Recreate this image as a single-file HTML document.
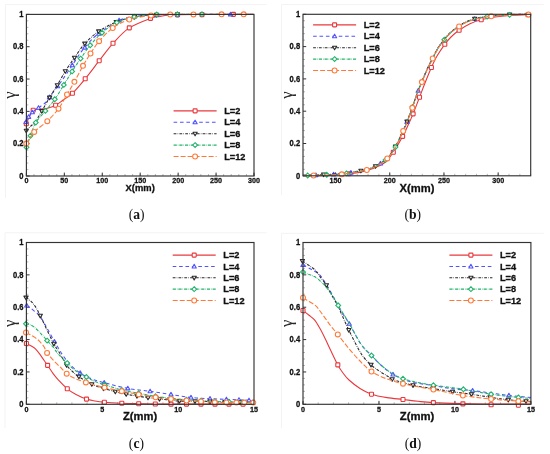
<!DOCTYPE html>
<html><head><meta charset="utf-8"><title>Figure</title>
<style>
html,body{margin:0;padding:0;background:#fff;}
body{width:550px;height:454px;overflow:hidden;}
svg{display:block;}
.t{font-family:'Liberation Sans', Arial, sans-serif;font-weight:bold;font-size:7.2px;fill:#111;stroke:#111;stroke-width:0.26px;}
.ty{font-size:7.6px;}
.ti{font-family:'Liberation Sans', Arial, sans-serif;font-weight:bold;fill:#111;stroke:#111;stroke-width:0.3px;}
.lg{font-family:'Liberation Sans', Arial, sans-serif;font-weight:bold;font-size:9.2px;fill:#111;stroke:#111;stroke-width:0.3px;}
.g{font-family:'Liberation Serif', 'Times New Roman', serif;font-size:16.5px;fill:#2a2a2a;}
.cap{font-family:'Liberation Serif', 'Times New Roman', serif;font-size:13.6px;fill:#111;}
</style></head>
<body>
<svg width="550" height="454" viewBox="0 0 550 454">
<rect width="550" height="454" fill="#fff"/>
<path d="M5.5 198V4.5M5.5 4.5H266.5" fill="none" stroke="#f3f3f3" stroke-width="1"/>
<clipPath id="ca"><rect x="25.9" y="13.6" width="228.6" height="163.2"/></clipPath>
<path d="M26.4 169.54h2M26.4 163.07h2M26.4 156.61h2M26.4 150.14h2M26.4 137.22h2M26.4 130.75h2M26.4 124.29h2M26.4 117.82h2M26.4 104.9h2M26.4 98.43h2M26.4 91.97h2M26.4 85.5h2M26.4 72.58h2M26.4 66.11h2M26.4 59.65h2M26.4 53.18h2M26.4 40.26h2M26.4 33.79h2M26.4 27.33h2M26.4 20.86h2M26.4 176v-2M33.99 176v-2M41.57 176v-2M49.16 176v-2M56.75 176v-2M64.33 176v-2M71.92 176v-2M79.51 176v-2M87.09 176v-2M94.68 176v-2M102.27 176v-2M109.85 176v-2M117.44 176v-2M125.03 176v-2M132.61 176v-2M140.2 176v-2M147.79 176v-2M155.37 176v-2M162.96 176v-2M170.55 176v-2M178.13 176v-2M185.72 176v-2M193.31 176v-2M200.89 176v-2M208.48 176v-2M216.07 176v-2M223.65 176v-2M231.24 176v-2M238.83 176v-2M246.41 176v-2M254 176v-2" stroke="#888" stroke-width="0.6" fill="none"/>
<path d="M26.4 176h3.2M26.4 143.68h3.2M26.4 111.36h3.2M26.4 79.04h3.2M26.4 46.72h3.2M26.4 14.4h3.2M26.4 176v-3.4M64.33 176v-3.4M102.27 176v-3.4M140.2 176v-3.4M178.13 176v-3.4M216.07 176v-3.4M254 176v-3.4" stroke="#333" stroke-width="1" fill="none"/>
<path d="M26.3 123.8 C26.83 122.58 28.35 118.77 29.5 116.5 C30.65 114.23 31.78 111.4 33.2 110.2 C34.62 109 36.37 109.53 38 109.3 C39.63 109.07 41.42 108.98 43 108.8 C44.58 108.62 45.4 108.78 47.5 108.2 C49.6 107.62 52.93 106.7 55.6 105.3 C58.27 103.9 60.7 101.8 63.5 99.8 C66.3 97.8 68.78 96.8 72.4 93.3 C76.02 89.8 80.73 84.23 85.2 78.8 C89.67 73.37 94.57 66.62 99.2 60.7 C103.83 54.78 107.98 48.77 113 43.3 C118.02 37.83 123.05 32.05 129.3 27.9 C135.55 23.75 145.38 20.3 150.5 18.4 C155.62 16.5 157.2 17.05 160 16.5 C162.8 15.95 164.38 15.42 167.3 15.1 C170.22 14.78 171.38 14.72 177.5 14.6 C183.62 14.48 194.68 14.45 204 14.4 C213.32 14.35 225.07 14.32 233.4 14.3 C241.73 14.28 250.57 14.3 254 14.3" fill="none" stroke="#e8383c" stroke-width="1.1" stroke-linejoin="round" clip-path="url(#ca)"/>
<rect x="24.3" y="121.8" width="4" height="4" rx="0.6" fill="#fff" stroke="#e8383c" stroke-width="1.1"/>
<rect x="31.2" y="108.2" width="4" height="4" rx="0.6" fill="#fff" stroke="#e8383c" stroke-width="1.1"/>
<rect x="53.6" y="103.3" width="4" height="4" rx="0.6" fill="#fff" stroke="#e8383c" stroke-width="1.1"/>
<rect x="70.4" y="91.3" width="4" height="4" rx="0.6" fill="#fff" stroke="#e8383c" stroke-width="1.1"/>
<rect x="83.2" y="76.8" width="4" height="4" rx="0.6" fill="#fff" stroke="#e8383c" stroke-width="1.1"/>
<rect x="97.2" y="58.7" width="4" height="4" rx="0.6" fill="#fff" stroke="#e8383c" stroke-width="1.1"/>
<rect x="111" y="41.3" width="4" height="4" rx="0.6" fill="#fff" stroke="#e8383c" stroke-width="1.1"/>
<rect x="127.3" y="25.9" width="4" height="4" rx="0.6" fill="#fff" stroke="#e8383c" stroke-width="1.1"/>
<rect x="148.5" y="16.4" width="4" height="4" rx="0.6" fill="#fff" stroke="#e8383c" stroke-width="1.1"/>
<rect x="175.5" y="12.9" width="4" height="4" rx="0.6" fill="#fff" stroke="#e8383c" stroke-width="1.1"/>
<rect x="200" y="12.6" width="4" height="4" rx="0.6" fill="#fff" stroke="#e8383c" stroke-width="1.1"/>
<rect x="231.4" y="12.4" width="4" height="4" rx="0.6" fill="#fff" stroke="#e8383c" stroke-width="1.1"/>
<path d="M26 122 C26.43 121.15 27.55 118.52 28.6 116.9 C29.65 115.28 30.65 113.82 32.3 112.3 C33.95 110.78 36.22 109.48 38.5 107.8 C40.78 106.12 44.17 103.97 46 102.2 C47.83 100.43 47.57 99.85 49.5 97.2 C51.43 94.55 55.42 89.23 57.6 86.3 C59.78 83.37 60.15 83.12 62.6 79.6 C65.05 76.08 69.07 70 72.3 65.2 C75.53 60.4 78.43 55.4 82 50.8 C85.57 46.2 90.2 41 93.7 37.6 C97.2 34.2 100.53 32.17 103 30.4 C105.47 28.63 105.82 28.67 108.5 27 C111.18 25.33 114.68 22.17 119.1 20.4 C123.52 18.63 128.18 17.33 135 16.4 C141.82 15.47 149.17 15.13 160 14.8 C170.83 14.47 188.25 14.48 200 14.4 C211.75 14.32 221.5 14.32 230.5 14.3 C239.5 14.28 250.08 14.3 254 14.3" fill="none" stroke="#5252ff" stroke-width="1.1" stroke-dasharray="3.6 2.8" stroke-linejoin="round" clip-path="url(#ca)"/>
<path d="M26 119.9L28.1 123.5L23.9 123.5Z" fill="#fff" stroke="#5252ff" stroke-width="1.1" stroke-linejoin="round"/>
<path d="M28.6 114.8L30.7 118.4L26.5 118.4Z" fill="#fff" stroke="#5252ff" stroke-width="1.1" stroke-linejoin="round"/>
<path d="M32.3 110.2L34.4 113.8L30.2 113.8Z" fill="#fff" stroke="#5252ff" stroke-width="1.1" stroke-linejoin="round"/>
<path d="M38.5 105.7L40.6 109.3L36.4 109.3Z" fill="#fff" stroke="#5252ff" stroke-width="1.1" stroke-linejoin="round"/>
<path d="M49.5 95.1L51.6 98.7L47.4 98.7Z" fill="#fff" stroke="#5252ff" stroke-width="1.1" stroke-linejoin="round"/>
<path d="M57.6 84.2L59.7 87.8L55.5 87.8Z" fill="#fff" stroke="#5252ff" stroke-width="1.1" stroke-linejoin="round"/>
<path d="M72.3 63.1L74.4 66.7L70.2 66.7Z" fill="#fff" stroke="#5252ff" stroke-width="1.1" stroke-linejoin="round"/>
<path d="M84.8 45.54L86.9 49.14L82.7 49.14Z" fill="#fff" stroke="#5252ff" stroke-width="1.1" stroke-linejoin="round"/>
<path d="M98.7 31.63L100.8 35.23L96.6 35.23Z" fill="#fff" stroke="#5252ff" stroke-width="1.1" stroke-linejoin="round"/>
<path d="M119.1 18.3L121.2 21.9L117 21.9Z" fill="#fff" stroke="#5252ff" stroke-width="1.1" stroke-linejoin="round"/>
<path d="M134.5 14.43L136.6 18.03L132.4 18.03Z" fill="#fff" stroke="#5252ff" stroke-width="1.1" stroke-linejoin="round"/>
<path d="M156.5 12.92L158.6 16.52L154.4 16.52Z" fill="#fff" stroke="#5252ff" stroke-width="1.1" stroke-linejoin="round"/>
<path d="M177.5 12.53L179.6 16.12L175.4 16.12Z" fill="#fff" stroke="#5252ff" stroke-width="1.1" stroke-linejoin="round"/>
<path d="M230.5 12.3L232.6 15.9L228.4 15.9Z" fill="#fff" stroke="#5252ff" stroke-width="1.1" stroke-linejoin="round"/>
<path d="M26.3 130.7 C27 129.97 29.03 127.75 30.5 126.3 C31.97 124.85 33.22 124.53 35.1 122 C36.98 119.47 39.38 115.17 41.8 111.1 C44.22 107.03 47.02 101.92 49.6 97.6 C52.18 93.28 54.68 89.6 57.3 85.2 C59.92 80.8 62.43 75.77 65.3 71.2 C68.17 66.63 71.25 62.4 74.5 57.8 C77.75 53.2 80.77 48 84.8 43.6 C88.83 39.2 93.47 35 98.7 31.4 C103.93 27.8 110.23 24.4 116.2 22 C122.17 19.6 127.87 18.2 134.5 17 C141.13 15.8 148.42 15.23 156 14.8 C163.58 14.37 167.67 14.48 180 14.4 C192.33 14.32 217.67 14.32 230 14.3 C242.33 14.28 250 14.3 254 14.3" fill="none" stroke="#2a2a2a" stroke-width="1.1" stroke-dasharray="2.8 1.2 0.6 1.2" stroke-linejoin="round" clip-path="url(#ca)"/>
<path d="M26.3 132.8L28.4 129.2L24.2 129.2Z" fill="#fff" stroke="#2a2a2a" stroke-width="1.1" stroke-linejoin="round"/>
<path d="M41.8 113.2L43.9 109.6L39.7 109.6Z" fill="#fff" stroke="#2a2a2a" stroke-width="1.1" stroke-linejoin="round"/>
<path d="M49.6 99.7L51.7 96.1L47.5 96.1Z" fill="#fff" stroke="#2a2a2a" stroke-width="1.1" stroke-linejoin="round"/>
<path d="M57.3 87.3L59.4 83.7L55.2 83.7Z" fill="#fff" stroke="#2a2a2a" stroke-width="1.1" stroke-linejoin="round"/>
<path d="M65.3 73.3L67.4 69.7L63.2 69.7Z" fill="#fff" stroke="#2a2a2a" stroke-width="1.1" stroke-linejoin="round"/>
<path d="M74.5 59.9L76.6 56.3L72.4 56.3Z" fill="#fff" stroke="#2a2a2a" stroke-width="1.1" stroke-linejoin="round"/>
<path d="M84.8 45.7L86.9 42.1L82.7 42.1Z" fill="#fff" stroke="#2a2a2a" stroke-width="1.1" stroke-linejoin="round"/>
<path d="M98.7 33.5L100.8 29.9L96.6 29.9Z" fill="#fff" stroke="#2a2a2a" stroke-width="1.1" stroke-linejoin="round"/>
<path d="M116.2 24.1L118.3 20.5L114.1 20.5Z" fill="#fff" stroke="#2a2a2a" stroke-width="1.1" stroke-linejoin="round"/>
<path d="M134.5 19.1L136.6 15.5L132.4 15.5Z" fill="#fff" stroke="#2a2a2a" stroke-width="1.1" stroke-linejoin="round"/>
<path d="M156.5 16.89L158.6 13.29L154.4 13.29Z" fill="#fff" stroke="#2a2a2a" stroke-width="1.1" stroke-linejoin="round"/>
<path d="M177.5 16.54L179.6 12.94L175.4 12.94Z" fill="#fff" stroke="#2a2a2a" stroke-width="1.1" stroke-linejoin="round"/>
<path d="M26.5 147.3 C27.17 145.37 28.95 139.82 30.5 135.7 C32.05 131.58 33.32 126.73 35.8 122.6 C38.28 118.47 42.23 114.78 45.4 110.9 C48.57 107.02 51.73 103.63 54.8 99.3 C57.87 94.97 60.92 89.55 63.8 84.9 C66.68 80.25 69.3 75.78 72.1 71.4 C74.9 67.02 77.58 62.95 80.6 58.6 C83.62 54.25 86.63 49.62 90.2 45.3 C93.77 40.98 97.57 36.48 102 32.7 C106.43 28.92 111.43 25.22 116.8 22.6 C122.17 19.98 127.53 18.35 134.2 17 C140.87 15.65 149.6 14.95 156.8 14.5 C164 14.05 169.87 14.33 177.4 14.3 C184.93 14.27 189.23 14.3 202 14.3 C214.77 14.3 245.33 14.3 254 14.3" fill="none" stroke="#24b36b" stroke-width="1.1" stroke-dasharray="3.2 1 0.5 1" stroke-linejoin="round" clip-path="url(#ca)"/>
<path d="M26.5 144.9L28.9 147.3L26.5 149.7L24.1 147.3Z" fill="#fff" stroke="#24b36b" stroke-width="1.1"/>
<path d="M30.5 133.3L32.9 135.7L30.5 138.1L28.1 135.7Z" fill="#fff" stroke="#24b36b" stroke-width="1.1"/>
<path d="M35.8 120.2L38.2 122.6L35.8 125L33.4 122.6Z" fill="#fff" stroke="#24b36b" stroke-width="1.1"/>
<path d="M45.4 108.5L47.8 110.9L45.4 113.3L43 110.9Z" fill="#fff" stroke="#24b36b" stroke-width="1.1"/>
<path d="M54.8 96.9L57.2 99.3L54.8 101.7L52.4 99.3Z" fill="#fff" stroke="#24b36b" stroke-width="1.1"/>
<path d="M63.8 82.5L66.2 84.9L63.8 87.3L61.4 84.9Z" fill="#fff" stroke="#24b36b" stroke-width="1.1"/>
<path d="M72.1 69L74.5 71.4L72.1 73.8L69.7 71.4Z" fill="#fff" stroke="#24b36b" stroke-width="1.1"/>
<path d="M80.6 56.2L83 58.6L80.6 61L78.2 58.6Z" fill="#fff" stroke="#24b36b" stroke-width="1.1"/>
<path d="M90.2 42.9L92.6 45.3L90.2 47.7L87.8 45.3Z" fill="#fff" stroke="#24b36b" stroke-width="1.1"/>
<path d="M102 30.3L104.4 32.7L102 35.1L99.6 32.7Z" fill="#fff" stroke="#24b36b" stroke-width="1.1"/>
<path d="M116.8 20.2L119.2 22.6L116.8 25L114.4 22.6Z" fill="#fff" stroke="#24b36b" stroke-width="1.1"/>
<path d="M134.2 14.6L136.6 17L134.2 19.4L131.8 17Z" fill="#fff" stroke="#24b36b" stroke-width="1.1"/>
<path d="M156.8 12.1L159.2 14.5L156.8 16.9L154.4 14.5Z" fill="#fff" stroke="#24b36b" stroke-width="1.1"/>
<path d="M177.4 11.9L179.8 14.3L177.4 16.7L175 14.3Z" fill="#fff" stroke="#24b36b" stroke-width="1.1"/>
<path d="M202 11.9L204.4 14.3L202 16.7L199.6 14.3Z" fill="#fff" stroke="#24b36b" stroke-width="1.1"/>
<path d="M26.3 143.6 C27.62 141.65 30.7 135.63 34.2 131.9 C37.7 128.17 43.25 125.07 47.3 121.2 C51.35 117.33 55.22 113.15 58.5 108.7 C61.78 104.25 64.35 98.98 67 94.5 C69.65 90.02 71.73 86.58 74.4 81.8 C77.07 77.02 80.32 70.52 83 65.8 C85.68 61.08 87.82 57.6 90.5 53.5 C93.18 49.4 95.4 45.45 99.1 41.2 C102.8 36.95 107.67 31.62 112.7 28 C117.73 24.38 122.92 21.58 129.3 19.5 C135.68 17.42 144.18 16.33 151 15.5 C157.82 14.67 163.12 14.68 170.2 14.5 C177.28 14.32 184.93 14.43 193.5 14.4 C202.07 14.37 213.23 14.32 221.6 14.3 C229.97 14.28 238.3 14.3 243.7 14.3 C249.1 14.3 252.28 14.3 254 14.3" fill="none" stroke="#ff7a3a" stroke-width="1.1" stroke-dasharray="5 2" stroke-linejoin="round" clip-path="url(#ca)"/>
<circle cx="26.3" cy="143.6" r="2.45" fill="#fff" stroke="#ff7a3a" stroke-width="1.1"/>
<circle cx="34.2" cy="131.9" r="2.45" fill="#fff" stroke="#ff7a3a" stroke-width="1.1"/>
<circle cx="47.3" cy="121.2" r="2.45" fill="#fff" stroke="#ff7a3a" stroke-width="1.1"/>
<circle cx="58.5" cy="108.7" r="2.45" fill="#fff" stroke="#ff7a3a" stroke-width="1.1"/>
<circle cx="67" cy="94.5" r="2.45" fill="#fff" stroke="#ff7a3a" stroke-width="1.1"/>
<circle cx="74.4" cy="81.8" r="2.45" fill="#fff" stroke="#ff7a3a" stroke-width="1.1"/>
<circle cx="83" cy="65.8" r="2.45" fill="#fff" stroke="#ff7a3a" stroke-width="1.1"/>
<circle cx="90.5" cy="53.5" r="2.45" fill="#fff" stroke="#ff7a3a" stroke-width="1.1"/>
<circle cx="99.1" cy="41.2" r="2.45" fill="#fff" stroke="#ff7a3a" stroke-width="1.1"/>
<circle cx="112.7" cy="28" r="2.45" fill="#fff" stroke="#ff7a3a" stroke-width="1.1"/>
<circle cx="129.3" cy="19.5" r="2.45" fill="#fff" stroke="#ff7a3a" stroke-width="1.1"/>
<circle cx="151" cy="15.5" r="2.45" fill="#fff" stroke="#ff7a3a" stroke-width="1.1"/>
<circle cx="170.2" cy="14.5" r="2.45" fill="#fff" stroke="#ff7a3a" stroke-width="1.1"/>
<circle cx="193.5" cy="14.4" r="2.45" fill="#fff" stroke="#ff7a3a" stroke-width="1.1"/>
<circle cx="221.6" cy="14.3" r="2.45" fill="#fff" stroke="#ff7a3a" stroke-width="1.1"/>
<circle cx="243.7" cy="14.3" r="2.45" fill="#fff" stroke="#ff7a3a" stroke-width="1.1"/>
<rect x="26.4" y="14.4" width="227.6" height="161.6" fill="none" stroke="#333" stroke-width="1.15"/>
<text transform="translate(23.5 178.7) scale(1 1.12)" text-anchor="end" class="t ty">0</text>
<text transform="translate(23.5 146.38) scale(1 1.12)" text-anchor="end" class="t ty">0.2</text>
<text transform="translate(23.5 114.06) scale(1 1.12)" text-anchor="end" class="t ty">0.4</text>
<text transform="translate(23.5 81.74) scale(1 1.12)" text-anchor="end" class="t ty">0.6</text>
<text transform="translate(23.5 49.42) scale(1 1.12)" text-anchor="end" class="t ty">0.8</text>
<text transform="translate(23.5 17.1) scale(1 1.12)" text-anchor="end" class="t ty">1</text>
<text transform="translate(26.4 183.3) scale(1 1.07)" text-anchor="middle" class="t">0</text>
<text transform="translate(64.33 183.3) scale(1 1.07)" text-anchor="middle" class="t">50</text>
<text transform="translate(102.27 183.3) scale(1 1.07)" text-anchor="middle" class="t">100</text>
<text transform="translate(140.2 183.3) scale(1 1.07)" text-anchor="middle" class="t">150</text>
<text transform="translate(178.13 183.3) scale(1 1.07)" text-anchor="middle" class="t">200</text>
<text transform="translate(216.07 183.3) scale(1 1.07)" text-anchor="middle" class="t">250</text>
<text transform="translate(254 183.3) scale(1 1.07)" text-anchor="middle" class="t">300</text>
<text x="140.2" y="191.3" text-anchor="middle" class="ti" style="font-size:9.4px">X(mm)</text>
<text transform="translate(15.2 95.2) rotate(-90)" text-anchor="middle" class="g">&#947;</text>
<path d="M173.6 110.9h43" stroke="#e8383c" stroke-width="1.1" fill="none"/>
<rect x="193.1" y="108.9" width="4" height="4" rx="0.6" fill="#fff" stroke="#e8383c" stroke-width="1.1"/>
<text transform="translate(224.2 114.05) scale(1 1.07)" class="lg">L=2</text>
<path d="M173.6 122.3h43" stroke="#5252ff" stroke-width="1.1" stroke-dasharray="3.6 2.8" fill="none"/>
<path d="M195.1 120.2L197.2 123.8L193 123.8Z" fill="#fff" stroke="#5252ff" stroke-width="1.1" stroke-linejoin="round"/>
<text transform="translate(224.2 125.45) scale(1 1.07)" class="lg">L=4</text>
<path d="M173.6 133.7h43" stroke="#2a2a2a" stroke-width="1.1" stroke-dasharray="2.8 1.2 0.6 1.2" fill="none"/>
<path d="M195.1 135.8L197.2 132.2L193 132.2Z" fill="#fff" stroke="#2a2a2a" stroke-width="1.1" stroke-linejoin="round"/>
<text transform="translate(224.2 136.85) scale(1 1.07)" class="lg">L=6</text>
<path d="M173.6 145.1h43" stroke="#24b36b" stroke-width="1.1" stroke-dasharray="3.2 1 0.5 1" fill="none"/>
<path d="M195.1 142.7L197.5 145.1L195.1 147.5L192.7 145.1Z" fill="#fff" stroke="#24b36b" stroke-width="1.1"/>
<text transform="translate(224.2 148.25) scale(1 1.07)" class="lg">L=8</text>
<path d="M173.6 156.5h43" stroke="#ff7a3a" stroke-width="1.1" stroke-dasharray="5 2" fill="none"/>
<circle cx="195.1" cy="156.5" r="2.45" fill="#fff" stroke="#ff7a3a" stroke-width="1.1"/>
<text transform="translate(224.2 159.65) scale(1 1.07)" class="lg">L=12</text>
<path d="M281.5 195V4.5M281.5 4.5H543.8" fill="none" stroke="#f3f3f3" stroke-width="1"/>
<clipPath id="cb"><rect x="302.5" y="13.5" width="228.7" height="163.1"/></clipPath>
<path d="M303 169.34h2M303 162.88h2M303 156.42h2M303 149.96h2M303 137.04h2M303 130.58h2M303 124.12h2M303 117.66h2M303 104.74h2M303 98.28h2M303 91.82h2M303 85.36h2M303 72.44h2M303 65.98h2M303 59.52h2M303 53.06h2M303 40.14h2M303 33.68h2M303 27.22h2M303 20.76h2M303 175.8v-2M313.84 175.8v-2M324.69 175.8v-2M335.53 175.8v-2M346.37 175.8v-2M357.21 175.8v-2M368.06 175.8v-2M378.9 175.8v-2M389.74 175.8v-2M400.59 175.8v-2M411.43 175.8v-2M422.27 175.8v-2M433.11 175.8v-2M443.96 175.8v-2M454.8 175.8v-2M465.64 175.8v-2M476.49 175.8v-2M487.33 175.8v-2M498.17 175.8v-2M509.01 175.8v-2M519.86 175.8v-2M530.7 175.8v-2" stroke="#888" stroke-width="0.6" fill="none"/>
<path d="M303 175.8h3.2M303 143.5h3.2M303 111.2h3.2M303 78.9h3.2M303 46.6h3.2M303 14.3h3.2M335.53 175.8v-3.4M389.74 175.8v-3.4M443.96 175.8v-3.4M498.17 175.8v-3.4" stroke="#333" stroke-width="1" fill="none"/>
<path d="M303 175.9 C307.5 175.82 322.33 175.77 330 175.4 C337.67 175.03 343.17 174.4 349 173.7 C354.83 173 359.83 172.55 365 171.2 C370.17 169.85 376.33 167.38 380 165.6 C383.67 163.82 384.78 162.72 387 160.5 C389.22 158.28 390.7 156.32 393.3 152.3 C395.9 148.28 400.23 140.7 402.6 136.4 C404.97 132.1 405.75 130.25 407.5 126.5 C409.25 122.75 411.1 118.77 413.1 113.9 C415.1 109.03 417.52 102.45 419.5 97.3 C421.48 92.15 423.02 87.97 425 83 C426.98 78.03 429.4 72 431.4 67.5 C433.4 63 434.77 59.87 437 56 C439.23 52.13 442.47 47.47 444.8 44.3 C447.13 41.13 448.62 39.33 451 37 C453.38 34.67 455.93 32.5 459.1 30.3 C462.27 28.1 466.32 25.55 470 23.8 C473.68 22.05 477.03 20.93 481.2 19.8 C485.37 18.67 490.2 17.72 495 17 C499.8 16.28 504 15.9 510 15.5 C516 15.1 527.5 14.75 531 14.6" fill="none" stroke="#e8383c" stroke-width="1.1" stroke-linejoin="round" clip-path="url(#cb)"/>
<rect x="347" y="171.7" width="4" height="4" rx="0.6" fill="#fff" stroke="#e8383c" stroke-width="1.1"/>
<rect x="391.3" y="150.3" width="4" height="4" rx="0.6" fill="#fff" stroke="#e8383c" stroke-width="1.1"/>
<rect x="400.6" y="134.4" width="4" height="4" rx="0.6" fill="#fff" stroke="#e8383c" stroke-width="1.1"/>
<rect x="411.1" y="111.9" width="4" height="4" rx="0.6" fill="#fff" stroke="#e8383c" stroke-width="1.1"/>
<rect x="417.5" y="95.3" width="4" height="4" rx="0.6" fill="#fff" stroke="#e8383c" stroke-width="1.1"/>
<rect x="429.4" y="65.5" width="4" height="4" rx="0.6" fill="#fff" stroke="#e8383c" stroke-width="1.1"/>
<rect x="442.8" y="42.3" width="4" height="4" rx="0.6" fill="#fff" stroke="#e8383c" stroke-width="1.1"/>
<rect x="457.1" y="28.3" width="4" height="4" rx="0.6" fill="#fff" stroke="#e8383c" stroke-width="1.1"/>
<rect x="479.2" y="17.8" width="4" height="4" rx="0.6" fill="#fff" stroke="#e8383c" stroke-width="1.1"/>
<rect x="526" y="12.73" width="4" height="4" rx="0.6" fill="#fff" stroke="#e8383c" stroke-width="1.1"/>
<path d="M303 175.5 C304.77 175.45 309.63 175.33 313.6 175.2 C317.57 175.07 322.1 174.9 326.8 174.7 C331.5 174.5 337.78 174.35 341.8 174 C345.82 173.65 347.72 173.1 350.9 172.6 C354.08 172.1 358.25 171.48 360.9 171 C363.55 170.52 364.37 170.45 366.8 169.7 C369.23 168.95 373.22 167.53 375.5 166.5 C377.78 165.47 378.83 164.58 380.5 163.5 C382.17 162.42 383.92 161.38 385.5 160 C387.08 158.62 388.33 157.38 390 155.2 C391.67 153.02 393.3 150.98 395.5 146.9 C397.7 142.82 401.28 134.87 403.2 130.7 C405.12 126.53 405.48 125.77 407 121.9 C408.52 118.03 410.43 112.7 412.3 107.5 C414.17 102.3 416.6 94.98 418.2 90.7 C419.8 86.42 420.43 85.3 421.9 81.8 C423.37 78.3 425.2 73.63 427 69.7 C428.8 65.77 430.87 61.78 432.7 58.2 C434.53 54.62 436.07 51.3 438 48.2 C439.93 45.1 442.13 42.27 444.3 39.6 C446.47 36.93 448.53 34.43 451 32.2 C453.47 29.97 456.6 27.87 459.1 26.2 C461.6 24.53 463.4 23.4 466 22.2 C468.6 21 471.18 19.95 474.7 19 C478.22 18.05 484.33 17 487.1 16.5 C489.87 16 487.55 16.28 491.3 16 C495.05 15.72 503.4 15.1 509.6 14.8 C515.8 14.5 524.93 14.3 528.5 14.2 C532.07 14.1 530.58 14.2 531 14.2" fill="none" stroke="#5252ff" stroke-width="1.1" stroke-dasharray="3.6 2.8" stroke-linejoin="round" clip-path="url(#cb)"/>
<path d="M315.9 173.01L318 176.61L313.8 176.61Z" fill="#fff" stroke="#5252ff" stroke-width="1.1" stroke-linejoin="round"/>
<path d="M333.6 172.28L335.7 175.88L331.5 175.88Z" fill="#fff" stroke="#5252ff" stroke-width="1.1" stroke-linejoin="round"/>
<path d="M350.9 170.5L353 174.1L348.8 174.1Z" fill="#fff" stroke="#5252ff" stroke-width="1.1" stroke-linejoin="round"/>
<path d="M380.5 161.4L382.6 165L378.4 165Z" fill="#fff" stroke="#5252ff" stroke-width="1.1" stroke-linejoin="round"/>
<path d="M407 119.8L409.1 123.4L404.9 123.4Z" fill="#fff" stroke="#5252ff" stroke-width="1.1" stroke-linejoin="round"/>
<path d="M418.2 88.6L420.3 92.2L416.1 92.2Z" fill="#fff" stroke="#5252ff" stroke-width="1.1" stroke-linejoin="round"/>
<path d="M474.7 16.9L476.8 20.5L472.6 20.5Z" fill="#fff" stroke="#5252ff" stroke-width="1.1" stroke-linejoin="round"/>
<path d="M303 175.2 C304.77 175.15 309.63 175.03 313.6 174.9 C317.57 174.77 322.1 174.6 326.8 174.4 C331.5 174.2 337.78 174.05 341.8 173.7 C345.82 173.35 347.72 172.8 350.9 172.3 C354.08 171.8 358.25 171.18 360.9 170.7 C363.55 170.22 364.37 170.15 366.8 169.4 C369.23 168.65 373.22 167.23 375.5 166.2 C377.78 165.17 378.83 164.28 380.5 163.2 C382.17 162.12 383.92 161.08 385.5 159.7 C387.08 158.32 388.33 157.08 390 154.9 C391.67 152.72 393.3 150.68 395.5 146.6 C397.7 142.52 401.28 134.57 403.2 130.4 C405.12 126.23 405.48 125.47 407 121.6 C408.52 117.73 410.43 112.4 412.3 107.2 C414.17 102 416.6 94.68 418.2 90.4 C419.8 86.12 420.43 85 421.9 81.5 C423.37 78 425.2 73.33 427 69.4 C428.8 65.47 430.87 61.48 432.7 57.9 C434.53 54.32 436.07 51 438 47.9 C439.93 44.8 442.13 41.97 444.3 39.3 C446.47 36.63 448.53 34.13 451 31.9 C453.47 29.67 456.6 27.57 459.1 25.9 C461.6 24.23 463.4 23.1 466 21.9 C468.6 20.7 471.18 19.65 474.7 18.7 C478.22 17.75 484.33 16.7 487.1 16.2 C489.87 15.7 487.55 15.98 491.3 15.7 C495.05 15.42 503.4 14.8 509.6 14.5 C515.8 14.2 524.93 14 528.5 13.9 C532.07 13.8 530.58 13.9 531 13.9" fill="none" stroke="#2a2a2a" stroke-width="1.1" stroke-dasharray="2.8 1.2 0.6 1.2" stroke-linejoin="round" clip-path="url(#cb)"/>
<path d="M323.6 176.62L325.7 173.02L321.5 173.02Z" fill="#fff" stroke="#2a2a2a" stroke-width="1.1" stroke-linejoin="round"/>
<path d="M360.9 172.8L363 169.2L358.8 169.2Z" fill="#fff" stroke="#2a2a2a" stroke-width="1.1" stroke-linejoin="round"/>
<path d="M375.5 168.3L377.6 164.7L373.4 164.7Z" fill="#fff" stroke="#2a2a2a" stroke-width="1.1" stroke-linejoin="round"/>
<path d="M395.5 148.7L397.6 145.1L393.4 145.1Z" fill="#fff" stroke="#2a2a2a" stroke-width="1.1" stroke-linejoin="round"/>
<path d="M407 123.7L409.1 120.1L404.9 120.1Z" fill="#fff" stroke="#2a2a2a" stroke-width="1.1" stroke-linejoin="round"/>
<path d="M474.7 20.8L476.8 17.2L472.6 17.2Z" fill="#fff" stroke="#2a2a2a" stroke-width="1.1" stroke-linejoin="round"/>
<path d="M509.6 16.6L511.7 13L507.5 13Z" fill="#fff" stroke="#2a2a2a" stroke-width="1.1" stroke-linejoin="round"/>
<path d="M303 175.6 C304.77 175.55 309.63 175.43 313.6 175.3 C317.57 175.17 322.1 175 326.8 174.8 C331.5 174.6 337.78 174.45 341.8 174.1 C345.82 173.75 347.72 173.2 350.9 172.7 C354.08 172.2 358.25 171.58 360.9 171.1 C363.55 170.62 364.37 170.55 366.8 169.8 C369.23 169.05 373.22 167.63 375.5 166.6 C377.78 165.57 378.83 164.68 380.5 163.6 C382.17 162.52 383.92 161.48 385.5 160.1 C387.08 158.72 388.33 157.48 390 155.3 C391.67 153.12 393.3 151.08 395.5 147 C397.7 142.92 401.28 134.97 403.2 130.8 C405.12 126.63 405.48 125.87 407 122 C408.52 118.13 410.43 112.8 412.3 107.6 C414.17 102.4 416.6 95.08 418.2 90.8 C419.8 86.52 420.43 85.4 421.9 81.9 C423.37 78.4 425.2 73.73 427 69.8 C428.8 65.87 430.87 61.88 432.7 58.3 C434.53 54.72 436.07 51.4 438 48.3 C439.93 45.2 442.13 42.37 444.3 39.7 C446.47 37.03 448.53 34.53 451 32.3 C453.47 30.07 456.6 27.97 459.1 26.3 C461.6 24.63 463.4 23.5 466 22.3 C468.6 21.1 471.18 20.05 474.7 19.1 C478.22 18.15 484.33 17.1 487.1 16.6 C489.87 16.1 487.55 16.38 491.3 16.1 C495.05 15.82 503.4 15.2 509.6 14.9 C515.8 14.6 524.93 14.4 528.5 14.3 C532.07 14.2 530.58 14.3 531 14.3" fill="none" stroke="#24b36b" stroke-width="1.1" stroke-dasharray="3.2 1 0.5 1" stroke-linejoin="round" clip-path="url(#cb)"/>
<path d="M307.7 173.07L310.1 175.47L307.7 177.87L305.3 175.47Z" fill="#fff" stroke="#24b36b" stroke-width="1.1"/>
<path d="M326.8 172.4L329.2 174.8L326.8 177.2L324.4 174.8Z" fill="#fff" stroke="#24b36b" stroke-width="1.1"/>
<path d="M346.4 170.99L348.8 173.39L346.4 175.79L344 173.39Z" fill="#fff" stroke="#24b36b" stroke-width="1.1"/>
<path d="M385.5 157.7L387.9 160.1L385.5 162.5L383.1 160.1Z" fill="#fff" stroke="#24b36b" stroke-width="1.1"/>
<path d="M395.5 144.6L397.9 147L395.5 149.4L393.1 147Z" fill="#fff" stroke="#24b36b" stroke-width="1.1"/>
<path d="M412.5 104.63L414.9 107.03L412.5 109.43L410.1 107.03Z" fill="#fff" stroke="#24b36b" stroke-width="1.1"/>
<path d="M444.3 37.3L446.7 39.7L444.3 42.1L441.9 39.7Z" fill="#fff" stroke="#24b36b" stroke-width="1.1"/>
<path d="M487.1 14.2L489.5 16.6L487.1 19L484.7 16.6Z" fill="#fff" stroke="#24b36b" stroke-width="1.1"/>
<path d="M509.6 12.5L512 14.9L509.6 17.3L507.2 14.9Z" fill="#fff" stroke="#24b36b" stroke-width="1.1"/>
<path d="M303 175.8 C304.77 175.75 309.63 175.63 313.6 175.5 C317.57 175.37 322.1 175.2 326.8 175 C331.5 174.8 337.78 174.65 341.8 174.3 C345.82 173.95 347.72 173.4 350.9 172.9 C354.08 172.4 358.25 171.78 360.9 171.3 C363.55 170.82 364.37 170.75 366.8 170 C369.23 169.25 373.22 167.83 375.5 166.8 C377.78 165.77 378.83 164.88 380.5 163.8 C382.17 162.72 383.92 161.68 385.5 160.3 C387.08 158.92 388.33 157.68 390 155.5 C391.67 153.32 393.3 151.28 395.5 147.2 C397.7 143.12 401.28 135.17 403.2 131 C405.12 126.83 405.48 126.07 407 122.2 C408.52 118.33 410.43 113 412.3 107.8 C414.17 102.6 416.6 95.28 418.2 91 C419.8 86.72 420.43 85.6 421.9 82.1 C423.37 78.6 425.2 73.93 427 70 C428.8 66.07 430.87 62.08 432.7 58.5 C434.53 54.92 436.07 51.6 438 48.5 C439.93 45.4 442.13 42.57 444.3 39.9 C446.47 37.23 448.53 34.73 451 32.5 C453.47 30.27 456.6 28.17 459.1 26.5 C461.6 24.83 463.4 23.7 466 22.5 C468.6 21.3 471.18 20.25 474.7 19.3 C478.22 18.35 484.33 17.3 487.1 16.8 C489.87 16.3 487.55 16.58 491.3 16.3 C495.05 16.02 503.4 15.4 509.6 15.1 C515.8 14.8 524.93 14.6 528.5 14.5 C532.07 14.4 530.58 14.5 531 14.5" fill="none" stroke="#ff7a3a" stroke-width="1.1" stroke-dasharray="5 2" stroke-linejoin="round" clip-path="url(#cb)"/>
<circle cx="313.6" cy="175.5" r="2.45" fill="#fff" stroke="#ff7a3a" stroke-width="1.1"/>
<circle cx="341.8" cy="174.3" r="2.45" fill="#fff" stroke="#ff7a3a" stroke-width="1.1"/>
<circle cx="366.8" cy="170" r="2.45" fill="#fff" stroke="#ff7a3a" stroke-width="1.1"/>
<circle cx="387.3" cy="158.38" r="2.45" fill="#fff" stroke="#ff7a3a" stroke-width="1.1"/>
<circle cx="403.2" cy="131" r="2.45" fill="#fff" stroke="#ff7a3a" stroke-width="1.1"/>
<circle cx="412.3" cy="107.8" r="2.45" fill="#fff" stroke="#ff7a3a" stroke-width="1.1"/>
<circle cx="421.9" cy="82.1" r="2.45" fill="#fff" stroke="#ff7a3a" stroke-width="1.1"/>
<circle cx="432.7" cy="58.5" r="2.45" fill="#fff" stroke="#ff7a3a" stroke-width="1.1"/>
<circle cx="459.1" cy="26.5" r="2.45" fill="#fff" stroke="#ff7a3a" stroke-width="1.1"/>
<circle cx="491.3" cy="16.3" r="2.45" fill="#fff" stroke="#ff7a3a" stroke-width="1.1"/>
<circle cx="528.5" cy="14.5" r="2.45" fill="#fff" stroke="#ff7a3a" stroke-width="1.1"/>
<rect x="303" y="14.3" width="227.7" height="161.5" fill="none" stroke="#333" stroke-width="1.15"/>
<text transform="translate(300.1 178.5) scale(1 1.12)" text-anchor="end" class="t ty">0</text>
<text transform="translate(300.1 146.2) scale(1 1.12)" text-anchor="end" class="t ty">0.2</text>
<text transform="translate(300.1 113.9) scale(1 1.12)" text-anchor="end" class="t ty">0.4</text>
<text transform="translate(300.1 81.6) scale(1 1.12)" text-anchor="end" class="t ty">0.6</text>
<text transform="translate(300.1 49.3) scale(1 1.12)" text-anchor="end" class="t ty">0.8</text>
<text transform="translate(300.1 17) scale(1 1.12)" text-anchor="end" class="t ty">1</text>
<text transform="translate(335.53 183.1) scale(1 1.07)" text-anchor="middle" class="t">150</text>
<text transform="translate(389.74 183.1) scale(1 1.07)" text-anchor="middle" class="t">200</text>
<text transform="translate(443.96 183.1) scale(1 1.07)" text-anchor="middle" class="t">250</text>
<text transform="translate(498.17 183.1) scale(1 1.07)" text-anchor="middle" class="t">300</text>
<text x="417" y="191.9" text-anchor="middle" class="ti" style="font-size:11.2px">X(mm)</text>
<text transform="translate(291.8 95.05) rotate(-90)" text-anchor="middle" class="g">&#947;</text>
<path d="M313.1 24.9h43" stroke="#e8383c" stroke-width="1.1" fill="none"/>
<rect x="332.6" y="22.9" width="4" height="4" rx="0.6" fill="#fff" stroke="#e8383c" stroke-width="1.1"/>
<text transform="translate(363.7 28.05) scale(1 1.07)" class="lg">L=2</text>
<path d="M313.1 36.3h43" stroke="#5252ff" stroke-width="1.1" stroke-dasharray="3.6 2.8" fill="none"/>
<path d="M334.6 34.2L336.7 37.8L332.5 37.8Z" fill="#fff" stroke="#5252ff" stroke-width="1.1" stroke-linejoin="round"/>
<text transform="translate(363.7 39.45) scale(1 1.07)" class="lg">L=4</text>
<path d="M313.1 47.7h43" stroke="#2a2a2a" stroke-width="1.1" stroke-dasharray="2.8 1.2 0.6 1.2" fill="none"/>
<path d="M334.6 49.8L336.7 46.2L332.5 46.2Z" fill="#fff" stroke="#2a2a2a" stroke-width="1.1" stroke-linejoin="round"/>
<text transform="translate(363.7 50.85) scale(1 1.07)" class="lg">L=6</text>
<path d="M313.1 59.1h43" stroke="#24b36b" stroke-width="1.1" stroke-dasharray="3.2 1 0.5 1" fill="none"/>
<path d="M334.6 56.7L337 59.1L334.6 61.5L332.2 59.1Z" fill="#fff" stroke="#24b36b" stroke-width="1.1"/>
<text transform="translate(363.7 62.25) scale(1 1.07)" class="lg">L=8</text>
<path d="M313.1 70.5h43" stroke="#ff7a3a" stroke-width="1.1" stroke-dasharray="5 2" fill="none"/>
<circle cx="334.6" cy="70.5" r="2.45" fill="#fff" stroke="#ff7a3a" stroke-width="1.1"/>
<text transform="translate(363.7 73.65) scale(1 1.07)" class="lg">L=12</text>
<path d="M5 428V232.8M5 232.8H266.5" fill="none" stroke="#f3f3f3" stroke-width="1"/>
<clipPath id="cc"><rect x="25.9" y="241.7" width="228.6" height="163.4"/></clipPath>
<path d="M26.4 397.83h2M26.4 391.36h2M26.4 384.88h2M26.4 378.41h2M26.4 365.47h2M26.4 359h2M26.4 352.52h2M26.4 346.05h2M26.4 333.11h2M26.4 326.64h2M26.4 320.16h2M26.4 313.69h2M26.4 300.75h2M26.4 294.28h2M26.4 287.8h2M26.4 281.33h2M26.4 268.39h2M26.4 261.92h2M26.4 255.44h2M26.4 248.97h2M26.4 404.3v-2M41.57 404.3v-2M56.75 404.3v-2M71.92 404.3v-2M87.09 404.3v-2M102.27 404.3v-2M117.44 404.3v-2M132.61 404.3v-2M147.79 404.3v-2M162.96 404.3v-2M178.13 404.3v-2M193.31 404.3v-2M208.48 404.3v-2M223.65 404.3v-2M238.83 404.3v-2M254 404.3v-2" stroke="#888" stroke-width="0.6" fill="none"/>
<path d="M26.4 404.3h3.2M26.4 371.94h3.2M26.4 339.58h3.2M26.4 307.22h3.2M26.4 274.86h3.2M26.4 242.5h3.2M26.4 404.3v-3.4M102.27 404.3v-3.4M178.13 404.3v-3.4M254 404.3v-3.4" stroke="#333" stroke-width="1" fill="none"/>
<path d="M26.4 343.5 C27.13 343.88 29.33 344.93 30.8 345.8 C32.27 346.67 33.73 347.35 35.2 348.7 C36.67 350.05 38.13 351.97 39.6 353.9 C41.07 355.83 42.67 358.38 44 360.3 C45.33 362.22 46.05 363.15 47.6 365.4 C49.15 367.65 51.48 371.37 53.3 373.8 C55.12 376.23 56.17 377.5 58.5 380 C60.83 382.5 64.38 386.38 67.3 388.8 C70.22 391.22 72.8 392.78 76 394.5 C79.2 396.22 83.33 398.02 86.5 399.1 C89.67 400.18 92.02 400.48 95 401 C97.98 401.52 99.93 401.83 104.4 402.2 C108.87 402.57 116.08 402.95 121.8 403.2 C127.52 403.45 133.12 403.57 138.7 403.7 C144.28 403.83 149.92 403.93 155.3 404 C160.68 404.07 165.8 404.08 171 404.1 C176.2 404.12 172.67 404.08 186.5 404.1 C200.33 404.12 242.75 404.18 254 404.2" fill="none" stroke="#e8383c" stroke-width="1.1" stroke-linejoin="round" clip-path="url(#cc)"/>
<rect x="24.4" y="341.5" width="4" height="4" rx="0.6" fill="#fff" stroke="#e8383c" stroke-width="1.1"/>
<rect x="45.6" y="363.4" width="4" height="4" rx="0.6" fill="#fff" stroke="#e8383c" stroke-width="1.1"/>
<rect x="65.3" y="386.8" width="4" height="4" rx="0.6" fill="#fff" stroke="#e8383c" stroke-width="1.1"/>
<rect x="84.5" y="397.1" width="4" height="4" rx="0.6" fill="#fff" stroke="#e8383c" stroke-width="1.1"/>
<rect x="102.4" y="400.2" width="4" height="4" rx="0.6" fill="#fff" stroke="#e8383c" stroke-width="1.1"/>
<rect x="119.8" y="401.2" width="4" height="4" rx="0.6" fill="#fff" stroke="#e8383c" stroke-width="1.1"/>
<rect x="136.7" y="401.7" width="4" height="4" rx="0.6" fill="#fff" stroke="#e8383c" stroke-width="1.1"/>
<rect x="153.3" y="402" width="4" height="4" rx="0.6" fill="#fff" stroke="#e8383c" stroke-width="1.1"/>
<rect x="169" y="402.1" width="4" height="4" rx="0.6" fill="#fff" stroke="#e8383c" stroke-width="1.1"/>
<rect x="184.5" y="402.1" width="4" height="4" rx="0.6" fill="#fff" stroke="#e8383c" stroke-width="1.1"/>
<rect x="199" y="402.12" width="4" height="4" rx="0.6" fill="#fff" stroke="#e8383c" stroke-width="1.1"/>
<rect x="213" y="402.14" width="4" height="4" rx="0.6" fill="#fff" stroke="#e8383c" stroke-width="1.1"/>
<rect x="227" y="402.16" width="4" height="4" rx="0.6" fill="#fff" stroke="#e8383c" stroke-width="1.1"/>
<rect x="241" y="402.18" width="4" height="4" rx="0.6" fill="#fff" stroke="#e8383c" stroke-width="1.1"/>
<path d="M26.7 305.5 C27.25 305.85 28.87 306.78 30 307.6 C31.13 308.42 31.9 309.03 33.5 310.4 C35.1 311.77 37.35 312.87 39.6 315.8 C41.85 318.73 44.53 323.7 47 328 C49.47 332.3 52.4 338.1 54.4 341.6 C56.4 345.1 57.57 346.68 59 349 C60.43 351.32 61.17 352.92 63 355.5 C64.83 358.08 67.13 361.58 70 364.5 C72.87 367.42 76.53 370.58 80.2 373 C83.87 375.42 88 377.38 92 379 C96 380.62 98.23 381.13 104.2 382.7 C110.17 384.27 120.15 386.97 127.8 388.4 C135.45 389.83 142.9 390.28 150.1 391.3 C157.3 392.32 164.18 393.47 171 394.5 C177.82 395.53 184.5 396.8 191 397.5 C197.5 398.2 204.1 398.4 210 398.7 C215.9 399 221.57 399.12 226.4 399.3 C231.23 399.48 235.23 399.63 239 399.8 C242.77 399.97 246.5 400.18 249 400.3 C251.5 400.42 253.17 400.47 254 400.5" fill="none" stroke="#5252ff" stroke-width="1.1" stroke-dasharray="3.6 2.8" stroke-linejoin="round" clip-path="url(#cc)"/>
<path d="M26.7 303.4L28.8 307L24.6 307Z" fill="#fff" stroke="#5252ff" stroke-width="1.1" stroke-linejoin="round"/>
<path d="M54.4 339.5L56.5 343.1L52.3 343.1Z" fill="#fff" stroke="#5252ff" stroke-width="1.1" stroke-linejoin="round"/>
<path d="M80.2 370.9L82.3 374.5L78.1 374.5Z" fill="#fff" stroke="#5252ff" stroke-width="1.1" stroke-linejoin="round"/>
<path d="M104.2 380.6L106.3 384.2L102.1 384.2Z" fill="#fff" stroke="#5252ff" stroke-width="1.1" stroke-linejoin="round"/>
<path d="M127.8 386.3L129.9 389.9L125.7 389.9Z" fill="#fff" stroke="#5252ff" stroke-width="1.1" stroke-linejoin="round"/>
<path d="M150.1 389.2L152.2 392.8L148 392.8Z" fill="#fff" stroke="#5252ff" stroke-width="1.1" stroke-linejoin="round"/>
<path d="M171 392.4L173.1 396L168.9 396Z" fill="#fff" stroke="#5252ff" stroke-width="1.1" stroke-linejoin="round"/>
<path d="M191 395.4L193.1 399L188.9 399Z" fill="#fff" stroke="#5252ff" stroke-width="1.1" stroke-linejoin="round"/>
<path d="M210 396.6L212.1 400.2L207.9 400.2Z" fill="#fff" stroke="#5252ff" stroke-width="1.1" stroke-linejoin="round"/>
<path d="M226.4 397.2L228.5 400.8L224.3 400.8Z" fill="#fff" stroke="#5252ff" stroke-width="1.1" stroke-linejoin="round"/>
<path d="M239 397.7L241.1 401.3L236.9 401.3Z" fill="#fff" stroke="#5252ff" stroke-width="1.1" stroke-linejoin="round"/>
<path d="M249 398.2L251.1 401.8L246.9 401.8Z" fill="#fff" stroke="#5252ff" stroke-width="1.1" stroke-linejoin="round"/>
<path d="M26 297.6 C26.8 298.18 29.27 299.63 30.8 301.1 C32.33 302.57 33.62 303.95 35.2 306.4 C36.78 308.85 38.33 311.87 40.3 315.8 C42.27 319.73 44.75 325.33 47 330 C49.25 334.67 51.8 340.13 53.8 343.8 C55.8 347.47 56.87 348.43 59 352 C61.13 355.57 64.35 361.95 66.6 365.2 C68.85 368.45 70.45 369.58 72.5 371.5 C74.55 373.42 75.68 374.58 78.9 376.7 C82.12 378.82 87.7 382.23 91.8 384.2 C95.9 386.17 99.58 387.25 103.5 388.5 C107.42 389.75 111.52 390.75 115.3 391.7 C119.08 392.65 122.58 393.48 126.2 394.2 C129.82 394.92 133.37 395.42 137 396 C140.63 396.58 144.25 397.2 148 397.7 C151.75 398.2 155.92 398.62 159.5 399 C163.08 399.38 166.17 399.67 169.5 400 C172.83 400.33 175.25 400.78 179.5 401 C183.75 401.22 189.92 401.22 195 401.3 C200.08 401.38 205 401.38 210 401.5 C215 401.62 220 401.87 225 402 C230 402.13 235.17 402.22 240 402.3 C244.83 402.38 251.67 402.47 254 402.5" fill="none" stroke="#2a2a2a" stroke-width="1.1" stroke-dasharray="2.8 1.2 0.6 1.2" stroke-linejoin="round" clip-path="url(#cc)"/>
<path d="M26 299.7L28.1 296.1L23.9 296.1Z" fill="#fff" stroke="#2a2a2a" stroke-width="1.1" stroke-linejoin="round"/>
<path d="M40.3 317.9L42.4 314.3L38.2 314.3Z" fill="#fff" stroke="#2a2a2a" stroke-width="1.1" stroke-linejoin="round"/>
<path d="M53.8 345.9L55.9 342.3L51.7 342.3Z" fill="#fff" stroke="#2a2a2a" stroke-width="1.1" stroke-linejoin="round"/>
<path d="M66.6 367.3L68.7 363.7L64.5 363.7Z" fill="#fff" stroke="#2a2a2a" stroke-width="1.1" stroke-linejoin="round"/>
<path d="M78.9 378.8L81 375.2L76.8 375.2Z" fill="#fff" stroke="#2a2a2a" stroke-width="1.1" stroke-linejoin="round"/>
<path d="M91.8 386.3L93.9 382.7L89.7 382.7Z" fill="#fff" stroke="#2a2a2a" stroke-width="1.1" stroke-linejoin="round"/>
<path d="M103.5 390.6L105.6 387L101.4 387Z" fill="#fff" stroke="#2a2a2a" stroke-width="1.1" stroke-linejoin="round"/>
<path d="M115.3 393.8L117.4 390.2L113.2 390.2Z" fill="#fff" stroke="#2a2a2a" stroke-width="1.1" stroke-linejoin="round"/>
<path d="M126.2 396.3L128.3 392.7L124.1 392.7Z" fill="#fff" stroke="#2a2a2a" stroke-width="1.1" stroke-linejoin="round"/>
<path d="M137 398.1L139.1 394.5L134.9 394.5Z" fill="#fff" stroke="#2a2a2a" stroke-width="1.1" stroke-linejoin="round"/>
<path d="M148 399.8L150.1 396.2L145.9 396.2Z" fill="#fff" stroke="#2a2a2a" stroke-width="1.1" stroke-linejoin="round"/>
<path d="M159.5 401.1L161.6 397.5L157.4 397.5Z" fill="#fff" stroke="#2a2a2a" stroke-width="1.1" stroke-linejoin="round"/>
<path d="M169.5 402.1L171.6 398.5L167.4 398.5Z" fill="#fff" stroke="#2a2a2a" stroke-width="1.1" stroke-linejoin="round"/>
<path d="M179.5 403.1L181.6 399.5L177.4 399.5Z" fill="#fff" stroke="#2a2a2a" stroke-width="1.1" stroke-linejoin="round"/>
<path d="M195 403.4L197.1 399.8L192.9 399.8Z" fill="#fff" stroke="#2a2a2a" stroke-width="1.1" stroke-linejoin="round"/>
<path d="M210 403.6L212.1 400L207.9 400Z" fill="#fff" stroke="#2a2a2a" stroke-width="1.1" stroke-linejoin="round"/>
<path d="M225 404.1L227.1 400.5L222.9 400.5Z" fill="#fff" stroke="#2a2a2a" stroke-width="1.1" stroke-linejoin="round"/>
<path d="M240 404.4L242.1 400.8L237.9 400.8Z" fill="#fff" stroke="#2a2a2a" stroke-width="1.1" stroke-linejoin="round"/>
<path d="M26 323.8 C26.58 323.92 28.18 323.98 29.5 324.5 C30.82 325.02 32.37 325.75 33.9 326.9 C35.43 328.05 37.37 330.08 38.7 331.4 C40.03 332.72 40.93 333.78 41.9 334.8 C42.87 335.82 43.63 336.53 44.5 337.5 C45.37 338.47 45.72 339.07 47.1 340.6 C48.48 342.13 50.97 344.5 52.8 346.7 C54.63 348.9 55.7 351.07 58.1 353.8 C60.5 356.53 64.22 360.23 67.2 363.1 C70.18 365.97 72.8 368.68 76 371 C79.2 373.32 83.23 375.25 86.4 377 C89.57 378.75 91.97 380.2 95 381.5 C98.03 382.8 100.13 383.38 104.6 384.8 C109.07 386.22 116.12 388.58 121.8 390 C127.48 391.42 133.08 392.25 138.7 393.3 C144.32 394.35 150.12 395.48 155.5 396.3 C160.88 397.12 165.83 397.63 171 398.2 C176.17 398.77 181.5 399.28 186.5 399.7 C191.5 400.12 196.25 400.4 201 400.7 C205.75 401 210.33 401.3 215 401.5 C219.67 401.7 224.33 401.78 229 401.9 C233.67 402.02 238.83 402.13 243 402.2 C247.17 402.27 252.17 402.28 254 402.3" fill="none" stroke="#24b36b" stroke-width="1.1" stroke-dasharray="3.2 1 0.5 1" stroke-linejoin="round" clip-path="url(#cc)"/>
<path d="M26 321.4L28.4 323.8L26 326.2L23.6 323.8Z" fill="#fff" stroke="#24b36b" stroke-width="1.1"/>
<path d="M47.1 338.2L49.5 340.6L47.1 343L44.7 340.6Z" fill="#fff" stroke="#24b36b" stroke-width="1.1"/>
<path d="M67.2 360.7L69.6 363.1L67.2 365.5L64.8 363.1Z" fill="#fff" stroke="#24b36b" stroke-width="1.1"/>
<path d="M86.4 374.6L88.8 377L86.4 379.4L84 377Z" fill="#fff" stroke="#24b36b" stroke-width="1.1"/>
<path d="M104.6 382.4L107 384.8L104.6 387.2L102.2 384.8Z" fill="#fff" stroke="#24b36b" stroke-width="1.1"/>
<path d="M121.8 387.6L124.2 390L121.8 392.4L119.4 390Z" fill="#fff" stroke="#24b36b" stroke-width="1.1"/>
<path d="M138.7 390.9L141.1 393.3L138.7 395.7L136.3 393.3Z" fill="#fff" stroke="#24b36b" stroke-width="1.1"/>
<path d="M155.5 393.9L157.9 396.3L155.5 398.7L153.1 396.3Z" fill="#fff" stroke="#24b36b" stroke-width="1.1"/>
<path d="M171 395.8L173.4 398.2L171 400.6L168.6 398.2Z" fill="#fff" stroke="#24b36b" stroke-width="1.1"/>
<path d="M186.5 397.3L188.9 399.7L186.5 402.1L184.1 399.7Z" fill="#fff" stroke="#24b36b" stroke-width="1.1"/>
<path d="M201 398.3L203.4 400.7L201 403.1L198.6 400.7Z" fill="#fff" stroke="#24b36b" stroke-width="1.1"/>
<path d="M215 399.1L217.4 401.5L215 403.9L212.6 401.5Z" fill="#fff" stroke="#24b36b" stroke-width="1.1"/>
<path d="M229 399.5L231.4 401.9L229 404.3L226.6 401.9Z" fill="#fff" stroke="#24b36b" stroke-width="1.1"/>
<path d="M243 399.8L245.4 402.2L243 404.6L240.6 402.2Z" fill="#fff" stroke="#24b36b" stroke-width="1.1"/>
<path d="M26 332.5 C26.65 332.85 28.37 333.75 29.9 334.6 C31.43 335.45 33.58 336.47 35.2 337.6 C36.82 338.73 38.13 339.88 39.6 341.4 C41.07 342.92 42.75 344.78 44 346.7 C45.25 348.62 45.43 350.52 47.1 352.9 C48.77 355.28 51.58 358.4 54 361 C56.42 363.6 59.48 366.38 61.6 368.5 C63.72 370.62 64.47 372.03 66.7 373.7 C68.93 375.37 71.8 377.05 75 378.5 C78.2 379.95 80.98 380.88 85.9 382.4 C90.82 383.92 98.52 386.13 104.5 387.6 C110.48 389.07 116.1 390.07 121.8 391.2 C127.5 392.33 133.07 393.38 138.7 394.4 C144.33 395.42 150.22 396.53 155.6 397.3 C160.98 398.07 165.85 398.47 171 399 C176.15 399.53 181.5 400.08 186.5 400.5 C191.5 400.92 196.28 401.2 201 401.5 C205.72 401.8 210.57 402.13 214.8 402.3 C219.03 402.47 219.87 402.45 226.4 402.5 C232.93 402.55 249.4 402.58 254 402.6" fill="none" stroke="#ff7a3a" stroke-width="1.1" stroke-dasharray="5 2" stroke-linejoin="round" clip-path="url(#cc)"/>
<circle cx="26" cy="332.5" r="2.45" fill="#fff" stroke="#ff7a3a" stroke-width="1.1"/>
<circle cx="47.1" cy="352.9" r="2.45" fill="#fff" stroke="#ff7a3a" stroke-width="1.1"/>
<circle cx="66.7" cy="373.7" r="2.45" fill="#fff" stroke="#ff7a3a" stroke-width="1.1"/>
<circle cx="85.9" cy="382.4" r="2.45" fill="#fff" stroke="#ff7a3a" stroke-width="1.1"/>
<circle cx="104.5" cy="387.6" r="2.45" fill="#fff" stroke="#ff7a3a" stroke-width="1.1"/>
<circle cx="121.8" cy="391.2" r="2.45" fill="#fff" stroke="#ff7a3a" stroke-width="1.1"/>
<circle cx="138.7" cy="394.4" r="2.45" fill="#fff" stroke="#ff7a3a" stroke-width="1.1"/>
<circle cx="155.6" cy="397.3" r="2.45" fill="#fff" stroke="#ff7a3a" stroke-width="1.1"/>
<circle cx="171" cy="399" r="2.45" fill="#fff" stroke="#ff7a3a" stroke-width="1.1"/>
<circle cx="186.5" cy="400.5" r="2.45" fill="#fff" stroke="#ff7a3a" stroke-width="1.1"/>
<circle cx="201" cy="401.5" r="2.45" fill="#fff" stroke="#ff7a3a" stroke-width="1.1"/>
<circle cx="214.8" cy="402.3" r="2.45" fill="#fff" stroke="#ff7a3a" stroke-width="1.1"/>
<circle cx="226.4" cy="402.5" r="2.45" fill="#fff" stroke="#ff7a3a" stroke-width="1.1"/>
<circle cx="236.4" cy="402.54" r="2.45" fill="#fff" stroke="#ff7a3a" stroke-width="1.1"/>
<circle cx="244.3" cy="402.56" r="2.45" fill="#fff" stroke="#ff7a3a" stroke-width="1.1"/>
<circle cx="253.3" cy="402.6" r="2.45" fill="#fff" stroke="#ff7a3a" stroke-width="1.1"/>
<rect x="26.4" y="242.5" width="227.6" height="161.8" fill="none" stroke="#333" stroke-width="1.15"/>
<text transform="translate(23.5 407) scale(1 1.12)" text-anchor="end" class="t ty">0</text>
<text transform="translate(23.5 374.64) scale(1 1.12)" text-anchor="end" class="t ty">0.2</text>
<text transform="translate(23.5 342.28) scale(1 1.12)" text-anchor="end" class="t ty">0.4</text>
<text transform="translate(23.5 309.92) scale(1 1.12)" text-anchor="end" class="t ty">0.6</text>
<text transform="translate(23.5 277.56) scale(1 1.12)" text-anchor="end" class="t ty">0.8</text>
<text transform="translate(23.5 245.2) scale(1 1.12)" text-anchor="end" class="t ty">1</text>
<text transform="translate(26.4 411.6) scale(1 1.07)" text-anchor="middle" class="t">0</text>
<text transform="translate(102.27 411.6) scale(1 1.07)" text-anchor="middle" class="t">5</text>
<text transform="translate(178.13 411.6) scale(1 1.07)" text-anchor="middle" class="t">10</text>
<text transform="translate(254 411.6) scale(1 1.07)" text-anchor="middle" class="t">15</text>
<text x="140.1" y="419.5" text-anchor="middle" class="ti" style="font-size:11.2px">Z(mm)</text>
<text transform="translate(15.2 323.4) rotate(-90)" text-anchor="middle" class="g">&#947;</text>
<path d="M172.7 255.1h43" stroke="#e8383c" stroke-width="1.1" fill="none"/>
<rect x="192.2" y="253.1" width="4" height="4" rx="0.6" fill="#fff" stroke="#e8383c" stroke-width="1.1"/>
<text transform="translate(223.3 258.25) scale(1 1.07)" class="lg">L=2</text>
<path d="M172.7 266.45h43" stroke="#5252ff" stroke-width="1.1" stroke-dasharray="3.6 2.8" fill="none"/>
<path d="M194.2 264.35L196.3 267.95L192.1 267.95Z" fill="#fff" stroke="#5252ff" stroke-width="1.1" stroke-linejoin="round"/>
<text transform="translate(223.3 269.6) scale(1 1.07)" class="lg">L=4</text>
<path d="M172.7 277.8h43" stroke="#2a2a2a" stroke-width="1.1" stroke-dasharray="2.8 1.2 0.6 1.2" fill="none"/>
<path d="M194.2 279.9L196.3 276.3L192.1 276.3Z" fill="#fff" stroke="#2a2a2a" stroke-width="1.1" stroke-linejoin="round"/>
<text transform="translate(223.3 280.95) scale(1 1.07)" class="lg">L=6</text>
<path d="M172.7 289.15h43" stroke="#24b36b" stroke-width="1.1" stroke-dasharray="3.2 1 0.5 1" fill="none"/>
<path d="M194.2 286.75L196.6 289.15L194.2 291.55L191.8 289.15Z" fill="#fff" stroke="#24b36b" stroke-width="1.1"/>
<text transform="translate(223.3 292.3) scale(1 1.07)" class="lg">L=8</text>
<path d="M172.7 300.5h43" stroke="#ff7a3a" stroke-width="1.1" stroke-dasharray="5 2" fill="none"/>
<circle cx="194.2" cy="300.5" r="2.45" fill="#fff" stroke="#ff7a3a" stroke-width="1.1"/>
<text transform="translate(223.3 303.65) scale(1 1.07)" class="lg">L=12</text>
<path d="M281.5 428V233.3M281.5 233.3H543.8" fill="none" stroke="#f3f3f3" stroke-width="1"/>
<clipPath id="cd"><rect x="302.5" y="241.7" width="228.9" height="163.4"/></clipPath>
<path d="M303 397.83h2M303 391.36h2M303 384.88h2M303 378.41h2M303 365.47h2M303 359h2M303 352.52h2M303 346.05h2M303 333.11h2M303 326.64h2M303 320.16h2M303 313.69h2M303 300.75h2M303 294.28h2M303 287.8h2M303 281.33h2M303 268.39h2M303 261.92h2M303 255.44h2M303 248.97h2M303 404.3v-2M318.19 404.3v-2M333.39 404.3v-2M348.58 404.3v-2M363.77 404.3v-2M378.97 404.3v-2M394.16 404.3v-2M409.35 404.3v-2M424.55 404.3v-2M439.74 404.3v-2M454.93 404.3v-2M470.13 404.3v-2M485.32 404.3v-2M500.51 404.3v-2M515.71 404.3v-2M530.9 404.3v-2" stroke="#888" stroke-width="0.6" fill="none"/>
<path d="M303 404.3h3.2M303 371.94h3.2M303 339.58h3.2M303 307.22h3.2M303 274.86h3.2M303 242.5h3.2M303 404.3v-3.4M378.97 404.3v-3.4M454.93 404.3v-3.4M530.9 404.3v-3.4" stroke="#333" stroke-width="1" fill="none"/>
<path d="M303 310.5 C304 311.3 307.08 313.73 309 315.3 C310.92 316.87 312.67 317.68 314.5 319.9 C316.33 322.12 318.25 325.53 320 328.6 C321.75 331.67 323.17 334.57 325 338.3 C326.83 342.03 328.87 346.57 331 351 C333.13 355.43 335.8 361.23 337.8 364.9 C339.8 368.57 341.13 370.48 343 373 C344.87 375.52 346.17 377.42 349 380 C351.83 382.58 356.25 386.13 360 388.5 C363.75 390.87 367 392.68 371.5 394.2 C376 395.72 381.75 396.72 387 397.6 C392.25 398.48 397.83 398.88 403 399.5 C408.17 400.12 412.93 400.78 418 401.3 C423.07 401.82 425.92 402.23 433.4 402.6 C440.88 402.97 453.28 403.27 462.9 403.5 C472.52 403.73 479.75 403.9 491.1 404 C502.45 404.1 524.35 404.08 531 404.1" fill="none" stroke="#e8383c" stroke-width="1.1" stroke-linejoin="round" clip-path="url(#cd)"/>
<rect x="301" y="308.5" width="4" height="4" rx="0.6" fill="#fff" stroke="#e8383c" stroke-width="1.1"/>
<rect x="335.8" y="362.9" width="4" height="4" rx="0.6" fill="#fff" stroke="#e8383c" stroke-width="1.1"/>
<rect x="369.5" y="392.2" width="4" height="4" rx="0.6" fill="#fff" stroke="#e8383c" stroke-width="1.1"/>
<rect x="401" y="397.5" width="4" height="4" rx="0.6" fill="#fff" stroke="#e8383c" stroke-width="1.1"/>
<rect x="431.4" y="400.6" width="4" height="4" rx="0.6" fill="#fff" stroke="#e8383c" stroke-width="1.1"/>
<rect x="460.9" y="401.9" width="4" height="4" rx="0.6" fill="#fff" stroke="#e8383c" stroke-width="1.1"/>
<rect x="489.1" y="402.8" width="4" height="4" rx="0.6" fill="#fff" stroke="#e8383c" stroke-width="1.1"/>
<rect x="516.4" y="403.2" width="4" height="4" rx="0.6" fill="#fff" stroke="#e8383c" stroke-width="1.1"/>
<path d="M303 264.9 C304.37 265.63 308.55 267.75 311.2 269.3 C313.85 270.85 316.52 271.92 318.9 274.2 C321.28 276.48 322.93 278.95 325.5 283 C328.07 287.05 331.72 293.83 334.3 298.5 C336.88 303.17 338.5 306.78 341 311 C343.5 315.22 345.93 318.22 349.3 323.8 C352.67 329.38 357.5 339.22 361.2 344.5 C364.9 349.78 368.03 351.92 371.5 355.5 C374.97 359.08 378.42 362.83 382 366 C385.58 369.17 389.5 372.33 393 374.5 C396.5 376.67 399.75 377.7 403 379 C406.25 380.3 407.43 381.2 412.5 382.3 C417.57 383.4 426.55 384.5 433.4 385.6 C440.25 386.7 447.07 388.07 453.6 388.9 C460.13 389.73 466.42 389.92 472.6 390.6 C478.78 391.28 484.65 392.2 490.7 393 C496.75 393.8 502.18 394.65 508.9 395.4 C515.62 396.15 527.32 397.15 531 397.5" fill="none" stroke="#5252ff" stroke-width="1.1" stroke-dasharray="3.6 2.8" stroke-linejoin="round" clip-path="url(#cd)"/>
<path d="M303 262.8L305.1 266.4L300.9 266.4Z" fill="#fff" stroke="#5252ff" stroke-width="1.1" stroke-linejoin="round"/>
<path d="M349.3 321.7L351.4 325.3L347.2 325.3Z" fill="#fff" stroke="#5252ff" stroke-width="1.1" stroke-linejoin="round"/>
<path d="M393 372.4L395.1 376L390.9 376Z" fill="#fff" stroke="#5252ff" stroke-width="1.1" stroke-linejoin="round"/>
<path d="M433.4 383.5L435.5 387.1L431.3 387.1Z" fill="#fff" stroke="#5252ff" stroke-width="1.1" stroke-linejoin="round"/>
<path d="M472.6 388.5L474.7 392.1L470.5 392.1Z" fill="#fff" stroke="#5252ff" stroke-width="1.1" stroke-linejoin="round"/>
<path d="M508.9 393.3L511 396.9L506.8 396.9Z" fill="#fff" stroke="#5252ff" stroke-width="1.1" stroke-linejoin="round"/>
<path d="M302.4 261 C303.5 261.73 306.8 263.83 309 265.4 C311.2 266.97 313.77 268.53 315.6 270.4 C317.43 272.27 318.2 274.12 320 276.6 C321.8 279.08 324.4 282.15 326.4 285.3 C328.4 288.45 330.03 291.93 332 295.5 C333.97 299.07 335.4 300.95 338.2 306.7 C341 312.45 344.97 322.17 348.8 330 C352.63 337.83 357.5 347.9 361.2 353.7 C364.9 359.5 367.87 361.83 371 364.8 C374.13 367.77 377.22 369.6 380 371.5 C382.78 373.4 385.67 374.92 387.7 376.2 C389.73 377.48 387.98 377.68 392.2 379.2 C396.42 380.72 406.2 383.73 413 385.3 C419.8 386.87 426.42 387.53 433 388.6 C439.58 389.67 446.1 390.75 452.5 391.7 C458.9 392.65 465.15 393.38 471.4 394.3 C477.65 395.22 483.85 396.28 490 397.2 C496.15 398.12 501.47 399.07 508.3 399.8 C515.13 400.53 527.22 401.3 531 401.6" fill="none" stroke="#2a2a2a" stroke-width="1.1" stroke-dasharray="2.8 1.2 0.6 1.2" stroke-linejoin="round" clip-path="url(#cd)"/>
<path d="M302.4 263.1L304.5 259.5L300.3 259.5Z" fill="#fff" stroke="#2a2a2a" stroke-width="1.1" stroke-linejoin="round"/>
<path d="M326.4 287.4L328.5 283.8L324.3 283.8Z" fill="#fff" stroke="#2a2a2a" stroke-width="1.1" stroke-linejoin="round"/>
<path d="M348.8 332.1L350.9 328.5L346.7 328.5Z" fill="#fff" stroke="#2a2a2a" stroke-width="1.1" stroke-linejoin="round"/>
<path d="M371 366.9L373.1 363.3L368.9 363.3Z" fill="#fff" stroke="#2a2a2a" stroke-width="1.1" stroke-linejoin="round"/>
<path d="M392.2 381.3L394.3 377.7L390.1 377.7Z" fill="#fff" stroke="#2a2a2a" stroke-width="1.1" stroke-linejoin="round"/>
<path d="M413 387.4L415.1 383.8L410.9 383.8Z" fill="#fff" stroke="#2a2a2a" stroke-width="1.1" stroke-linejoin="round"/>
<path d="M433 390.7L435.1 387.1L430.9 387.1Z" fill="#fff" stroke="#2a2a2a" stroke-width="1.1" stroke-linejoin="round"/>
<path d="M452.5 393.8L454.6 390.2L450.4 390.2Z" fill="#fff" stroke="#2a2a2a" stroke-width="1.1" stroke-linejoin="round"/>
<path d="M471.4 396.4L473.5 392.8L469.3 392.8Z" fill="#fff" stroke="#2a2a2a" stroke-width="1.1" stroke-linejoin="round"/>
<path d="M490 399.3L492.1 395.7L487.9 395.7Z" fill="#fff" stroke="#2a2a2a" stroke-width="1.1" stroke-linejoin="round"/>
<path d="M508.3 401.9L510.4 398.3L506.2 398.3Z" fill="#fff" stroke="#2a2a2a" stroke-width="1.1" stroke-linejoin="round"/>
<path d="M526 403.3L528.1 399.7L523.9 399.7Z" fill="#fff" stroke="#2a2a2a" stroke-width="1.1" stroke-linejoin="round"/>
<path d="M303 272 C304 272.43 307.08 273.83 309 274.6 C310.92 275.37 312.67 275.57 314.5 276.6 C316.33 277.63 317.98 278.97 320 280.8 C322.02 282.63 324.22 284.65 326.6 287.6 C328.98 290.55 332.37 295.53 334.3 298.5 C336.23 301.47 335.7 301.23 338.2 305.4 C340.7 309.57 345.47 316.98 349.3 323.5 C353.13 330.02 357.5 339.17 361.2 344.5 C364.9 349.83 368.03 351.92 371.5 355.5 C374.97 359.08 378.42 362.92 382 366 C385.58 369.08 389.5 371.88 393 374 C396.5 376.12 398.83 377.28 403 378.7 C407.17 380.12 412.93 381.42 418 382.5 C423.07 383.58 425.83 384.07 433.4 385.2 C440.97 386.33 453.78 387.8 463.4 389.3 C473.02 390.8 481.93 392.85 491.1 394.2 C500.27 395.55 511.75 396.68 518.4 397.4 C525.05 398.12 528.9 398.32 531 398.5" fill="none" stroke="#24b36b" stroke-width="1.1" stroke-dasharray="3.2 1 0.5 1" stroke-linejoin="round" clip-path="url(#cd)"/>
<path d="M303 269.6L305.4 272L303 274.4L300.6 272Z" fill="#fff" stroke="#24b36b" stroke-width="1.1"/>
<path d="M338.2 303L340.6 305.4L338.2 307.8L335.8 305.4Z" fill="#fff" stroke="#24b36b" stroke-width="1.1"/>
<path d="M371.5 353.1L373.9 355.5L371.5 357.9L369.1 355.5Z" fill="#fff" stroke="#24b36b" stroke-width="1.1"/>
<path d="M403 376.3L405.4 378.7L403 381.1L400.6 378.7Z" fill="#fff" stroke="#24b36b" stroke-width="1.1"/>
<path d="M433.4 382.8L435.8 385.2L433.4 387.6L431 385.2Z" fill="#fff" stroke="#24b36b" stroke-width="1.1"/>
<path d="M463.4 386.9L465.8 389.3L463.4 391.7L461 389.3Z" fill="#fff" stroke="#24b36b" stroke-width="1.1"/>
<path d="M491.1 391.8L493.5 394.2L491.1 396.6L488.7 394.2Z" fill="#fff" stroke="#24b36b" stroke-width="1.1"/>
<path d="M518.4 395L520.8 397.4L518.4 399.8L516 397.4Z" fill="#fff" stroke="#24b36b" stroke-width="1.1"/>
<path d="M303 297.7 C304 298.33 306.9 300.18 309 301.5 C311.1 302.82 313.77 304.02 315.6 305.6 C317.43 307.18 318.35 308.83 320 311 C321.65 313.17 323.67 316.05 325.5 318.6 C327.33 321.15 328.95 323.67 331 326.3 C333.05 328.93 334.97 330.87 337.8 334.4 C340.63 337.93 344.3 343.07 348 347.5 C351.7 351.93 356.08 357 360 361 C363.92 365 367 368.5 371.5 371.5 C376 374.5 381.75 376.97 387 379 C392.25 381.03 397.83 382.4 403 383.7 C408.17 385 412.93 385.83 418 386.8 C423.07 387.77 425.92 388.05 433.4 389.5 C440.88 390.95 453.28 393.92 462.9 395.5 C472.52 397.08 481.85 398.05 491.1 399 C500.35 399.95 511.75 400.73 518.4 401.2 C525.05 401.67 528.9 401.7 531 401.8" fill="none" stroke="#ff7a3a" stroke-width="1.1" stroke-dasharray="5 2" stroke-linejoin="round" clip-path="url(#cd)"/>
<circle cx="303" cy="297.7" r="2.45" fill="#fff" stroke="#ff7a3a" stroke-width="1.1"/>
<circle cx="337.8" cy="334.4" r="2.45" fill="#fff" stroke="#ff7a3a" stroke-width="1.1"/>
<circle cx="371.5" cy="371.5" r="2.45" fill="#fff" stroke="#ff7a3a" stroke-width="1.1"/>
<circle cx="403" cy="383.7" r="2.45" fill="#fff" stroke="#ff7a3a" stroke-width="1.1"/>
<circle cx="433.4" cy="389.5" r="2.45" fill="#fff" stroke="#ff7a3a" stroke-width="1.1"/>
<circle cx="462.9" cy="395.5" r="2.45" fill="#fff" stroke="#ff7a3a" stroke-width="1.1"/>
<circle cx="491.1" cy="399" r="2.45" fill="#fff" stroke="#ff7a3a" stroke-width="1.1"/>
<circle cx="518.4" cy="401.2" r="2.45" fill="#fff" stroke="#ff7a3a" stroke-width="1.1"/>
<rect x="303" y="242.5" width="227.9" height="161.8" fill="none" stroke="#333" stroke-width="1.15"/>
<text transform="translate(300.1 407) scale(1 1.12)" text-anchor="end" class="t ty">0</text>
<text transform="translate(300.1 374.64) scale(1 1.12)" text-anchor="end" class="t ty">0.2</text>
<text transform="translate(300.1 342.28) scale(1 1.12)" text-anchor="end" class="t ty">0.4</text>
<text transform="translate(300.1 309.92) scale(1 1.12)" text-anchor="end" class="t ty">0.6</text>
<text transform="translate(300.1 277.56) scale(1 1.12)" text-anchor="end" class="t ty">0.8</text>
<text transform="translate(300.1 245.2) scale(1 1.12)" text-anchor="end" class="t ty">1</text>
<text transform="translate(303 411.6) scale(1 1.07)" text-anchor="middle" class="t">0</text>
<text transform="translate(378.97 411.6) scale(1 1.07)" text-anchor="middle" class="t">5</text>
<text transform="translate(454.93 411.6) scale(1 1.07)" text-anchor="middle" class="t">10</text>
<text transform="translate(530.9 411.6) scale(1 1.07)" text-anchor="middle" class="t">15</text>
<text x="417" y="419.5" text-anchor="middle" class="ti" style="font-size:11.3px">Z(mm)</text>
<text transform="translate(291.8 323.4) rotate(-90)" text-anchor="middle" class="g">&#947;</text>
<path d="M449.4 255.1h43" stroke="#e8383c" stroke-width="1.1" fill="none"/>
<rect x="468.9" y="253.1" width="4" height="4" rx="0.6" fill="#fff" stroke="#e8383c" stroke-width="1.1"/>
<text transform="translate(500 258.25) scale(1 1.07)" class="lg">L=2</text>
<path d="M449.4 266.45h43" stroke="#5252ff" stroke-width="1.1" stroke-dasharray="3.6 2.8" fill="none"/>
<path d="M470.9 264.35L473 267.95L468.8 267.95Z" fill="#fff" stroke="#5252ff" stroke-width="1.1" stroke-linejoin="round"/>
<text transform="translate(500 269.6) scale(1 1.07)" class="lg">L=4</text>
<path d="M449.4 277.8h43" stroke="#2a2a2a" stroke-width="1.1" stroke-dasharray="2.8 1.2 0.6 1.2" fill="none"/>
<path d="M470.9 279.9L473 276.3L468.8 276.3Z" fill="#fff" stroke="#2a2a2a" stroke-width="1.1" stroke-linejoin="round"/>
<text transform="translate(500 280.95) scale(1 1.07)" class="lg">L=6</text>
<path d="M449.4 289.15h43" stroke="#24b36b" stroke-width="1.1" stroke-dasharray="3.2 1 0.5 1" fill="none"/>
<path d="M470.9 286.75L473.3 289.15L470.9 291.55L468.5 289.15Z" fill="#fff" stroke="#24b36b" stroke-width="1.1"/>
<text transform="translate(500 292.3) scale(1 1.07)" class="lg">L=8</text>
<path d="M449.4 300.5h43" stroke="#ff7a3a" stroke-width="1.1" stroke-dasharray="5 2" fill="none"/>
<circle cx="470.9" cy="300.5" r="2.45" fill="#fff" stroke="#ff7a3a" stroke-width="1.1"/>
<text transform="translate(500 303.65) scale(1 1.07)" class="lg">L=12</text>
<text x="136.6" y="219.4" text-anchor="middle" class="cap">(<tspan font-weight="bold">a</tspan>)</text>
<text x="412.7" y="219.4" text-anchor="middle" class="cap">(<tspan font-weight="bold">b</tspan>)</text>
<text x="136.4" y="447.9" text-anchor="middle" class="cap">(<tspan font-weight="bold">c</tspan>)</text>
<text x="413" y="447.9" text-anchor="middle" class="cap">(<tspan font-weight="bold">d</tspan>)</text>
</svg>
</body></html>
